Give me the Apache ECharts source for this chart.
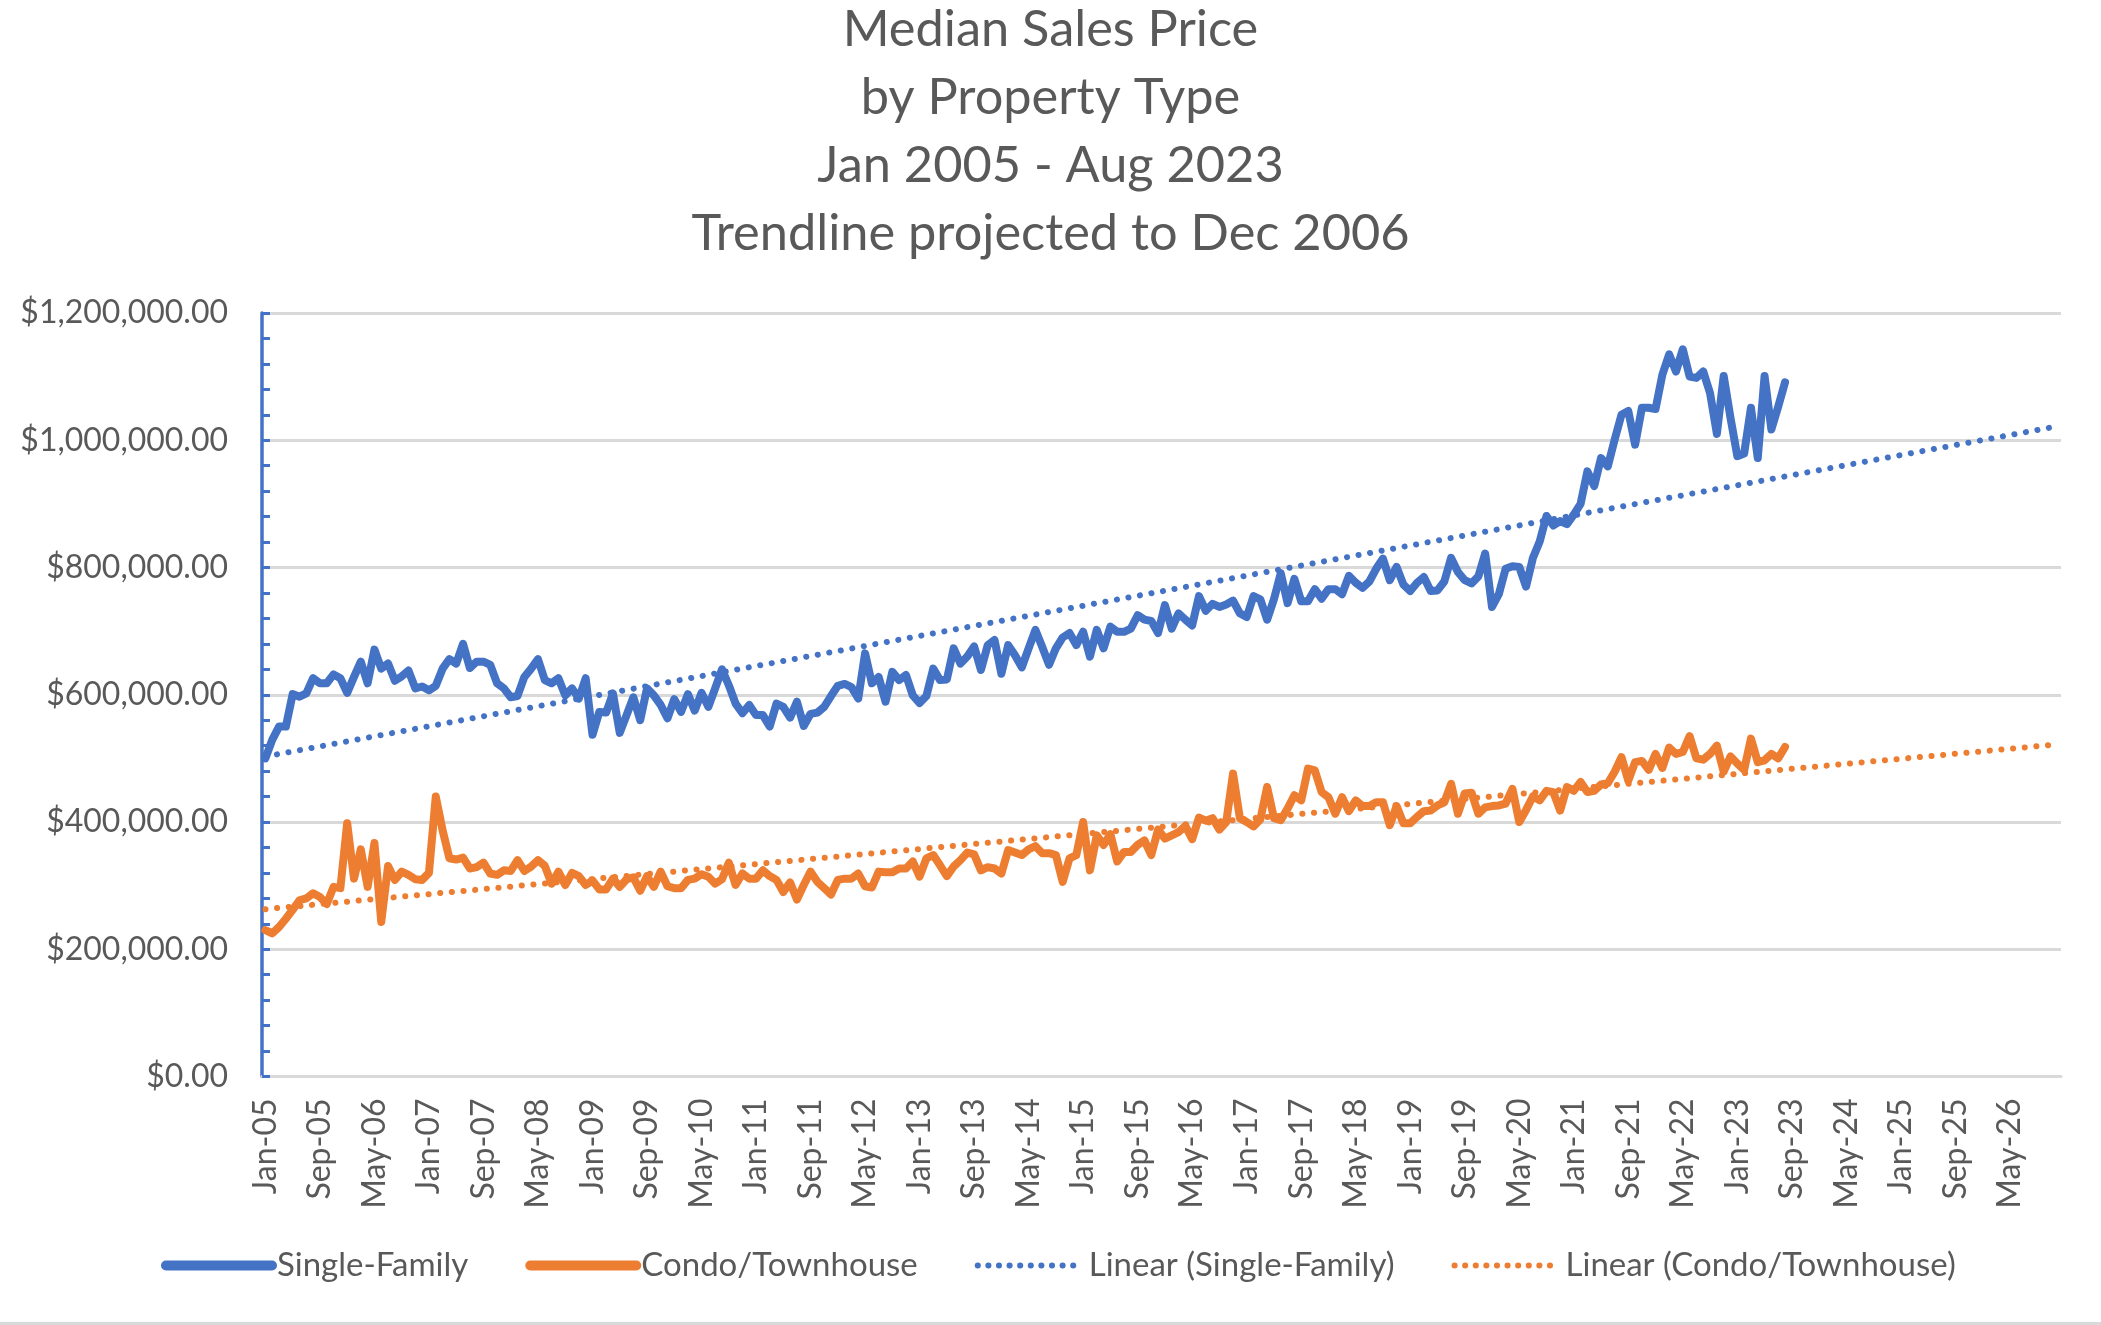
<!DOCTYPE html>
<html>
<head>
<meta charset="utf-8">
<title>Median Sales Price by Property Type</title>
<script src="https://cdn.jsdelivr.net/npm/echarts@6/dist/echarts.min.js"></script>
<style>
  html, body { margin: 0; padding: 0; background: #fff; }
  #chart { width: 2101px; height: 1322px; }
  #edge { width: 2101px; height: 3px; background: #d9d9d9; }
</style>
</head>
<body>
<div id="chart"></div>
<div id="edge"></div>
<script>
// month labels Jan-05 ... Dec-26
const monthNames = ['Jan', 'Feb', 'Mar', 'Apr', 'May', 'Jun', 'Jul', 'Aug', 'Sep', 'Oct', 'Nov', 'Dec'];
const firstYear = 2005;
const lastYear = 2026;
const months = [];
for (let y = firstYear; y <= lastYear; y++) {
  monthNames.forEach(m => months.push(m + '-' + String(y).slice(2)));
}

// median price, Jan 2005 - Aug 2023
const singleFamily = [
  500000, 529000, 550000, 550000, 601000, 597000, 602000, 626000, 618000, 618000, 632000, 626000,
  603000, 628000, 652000, 618000, 671000, 641000, 649000, 622000, 629000, 638000, 610000, 613000,
  607000, 614000, 641000, 656000, 649000, 680000, 642000, 652000, 652000, 647000, 618000, 610000,
  596000, 598000, 628000, 641000, 656000, 623000, 618000, 626000, 599000, 610000, 594000, 626000,
  537000, 573000, 572000, 602000, 540000, 568000, 596000, 560000, 610000, 599000, 584000, 563000,
  593000, 573000, 601000, 575000, 603000, 581000, 610000, 640000, 615000, 586000, 571000, 584000,
  568000, 568000, 550000, 586000, 581000, 564000, 589000, 551000, 570000, 572000, 581000, 598000,
  614000, 617000, 612000, 594000, 665000, 618000, 628000, 589000, 636000, 623000, 631000, 599000,
  587000, 598000, 641000, 623000, 624000, 673000, 649000, 660000, 676000, 639000, 678000, 686000,
  633000, 678000, 662000, 643000, 673000, 702000, 675000, 647000, 673000, 690000, 697000, 678000,
  699000, 660000, 702000, 673000, 707000, 699000, 699000, 704000, 725000, 718000, 716000, 697000,
  741000, 704000, 728000, 718000, 709000, 755000, 732000, 743000, 738000, 742000, 748000, 728000,
  722000, 755000, 750000, 718000, 750000, 791000, 744000, 782000, 747000, 747000, 766000, 751000,
  766000, 766000, 758000, 787000, 776000, 768000, 778000, 798000, 814000, 780000, 801000, 773000,
  763000, 776000, 785000, 763000, 764000, 778000, 815000, 793000, 780000, 775000, 786000, 822000,
  738000, 758000, 798000, 802000, 801000, 770000, 815000, 841000, 881000, 866000, 873000, 868000,
  883000, 900000, 951000, 928000, 972000, 959000, 1001000, 1040000, 1046000, 993000, 1051000, 1051000,
  1049000, 1103000, 1135000, 1108000, 1143000, 1100000, 1098000, 1108000, 1074000, 1010000, 1101000, 1035000,
  975000, 979000, 1051000, 972000, 1101000, 1017000, 1053000, 1091000
];
const condoTownhouse = [
  230000, 225000, 235000, 248000, 262000, 277000, 280000, 288000, 282000, 271000, 298000, 296000,
  398000, 311000, 357000, 298000, 367000, 243000, 331000, 309000, 322000, 317000, 310000, 309000,
  320000, 440000, 387000, 343000, 341000, 344000, 327000, 329000, 336000, 319000, 317000, 324000,
  323000, 340000, 323000, 330000, 340000, 331000, 303000, 322000, 301000, 320000, 315000, 301000,
  308000, 294000, 294000, 311000, 298000, 310000, 313000, 292000, 315000, 298000, 322000, 299000,
  296000, 296000, 309000, 311000, 318000, 314000, 303000, 310000, 336000, 301000, 319000, 311000,
  311000, 324000, 315000, 309000, 290000, 305000, 278000, 301000, 322000, 306000, 296000, 286000,
  309000, 311000, 311000, 319000, 299000, 297000, 322000, 321000, 321000, 327000, 327000, 338000,
  314000, 343000, 348000, 332000, 315000, 330000, 340000, 352000, 349000, 324000, 329000, 327000,
  319000, 356000, 352000, 348000, 357000, 362000, 351000, 351000, 348000, 306000, 343000, 348000,
  400000, 324000, 379000, 364000, 381000, 338000, 353000, 353000, 364000, 371000, 348000, 388000,
  374000, 379000, 384000, 394000, 373000, 407000, 402000, 406000, 388000, 400000, 476000, 406000,
  400000, 393000, 404000, 455000, 406000, 403000, 421000, 442000, 434000, 484000, 481000, 447000,
  439000, 413000, 439000, 417000, 434000, 425000, 425000, 431000, 431000, 395000, 425000, 398000,
  398000, 408000, 417000, 418000, 426000, 431000, 460000, 413000, 445000, 446000, 413000, 423000,
  425000, 426000, 429000, 452000, 400000, 419000, 440000, 434000, 449000, 447000, 418000, 455000,
  449000, 463000, 447000, 449000, 459000, 461000, 479000, 502000, 465000, 494000, 496000, 482000,
  507000, 485000, 517000, 507000, 510000, 535000, 500000, 498000, 507000, 520000, 479000, 503000,
  492000, 482000, 531000, 494000, 497000, 507000, 500000, 518000
];

// linear trendlines, read at Jan-05 and Dec-26
const trendSingleFamily = [503000, 1022000];
const trendCondo = [263000, 522000];

// y axis
const yMax = 1200000;
const yStep = 200000;

const trendData = ends => months.map((m, i) => i === 0 ? ends[0] : (i === months.length - 1 ? ends[1] : null));

const FONT = 'Lato';
const GREY = '#595959';
const BLUE = '#4472C4';
const ORANGE = '#ED7D31';
const GRID = '#d9d9d9';
const DOTS = [0.1, 11.6];

const solidKey = { lineStyle: { width: 10, cap: 'round', type: 'solid' }, itemStyle: { opacity: 0 } };
const dottedKey = { lineStyle: { width: 6, cap: 'round', type: [0.1, 10.5] }, itemStyle: { opacity: 0 } };

const chart = echarts.init(document.getElementById('chart'));
chart.setOption({
  animation: false,
  textStyle: { fontFamily: FONT },
  title: {
    text: 'Median Sales Price\nby Property Type\nJan 2005 - Aug 2023\nTrendline projected to Dec 2006',
    left: 'center',
    top: -4,
    padding: 0,
    textStyle: { fontSize: 50.5, lineHeight: 68, fontWeight: 'normal', color: GREY, fontFamily: FONT }
  },
  grid: { left: 262, right: 40, top: 313, bottom: 245.5 },
  legend: {
    top: 1249,
    left: 161,
    padding: 0,
    itemWidth: 106,
    itemHeight: 14,
    itemGap: 57,
    textStyle: { fontSize: 33, color: GREY, fontFamily: FONT },
    data: [
      Object.assign({ name: 'Single-Family' }, solidKey),
      Object.assign({ name: 'Condo/Townhouse' }, solidKey),
      Object.assign({ name: 'Linear (Single-Family)' }, dottedKey),
      Object.assign({ name: 'Linear (Condo/Townhouse)' }, dottedKey)
    ]
  },
  xAxis: {
    type: 'category',
    data: months,
    boundaryGap: true,
    axisLine: { lineStyle: { color: GRID, width: 3 } },
    axisTick: { interval: 7, length: 10, lineStyle: { color: GRID, width: 3 } },
    axisLabel: { interval: 7, rotate: 90, margin: 22, fontSize: 32, color: GREY, fontFamily: FONT },
    splitLine: { show: false }
  },
  yAxis: {
    type: 'value',
    min: 0,
    max: yMax,
    interval: yStep,
    axisLine: { show: true, lineStyle: { color: BLUE, width: 3.5 } },
    axisTick: { show: true, inside: true, length: 8, lineStyle: { color: BLUE, width: 3 } },
    minorTick: { show: true, splitNumber: 5, length: 8, lineStyle: { color: BLUE, width: 3 } },
    axisLabel: {
      margin: 34,
      fontSize: 32,
      color: GREY,
      fontFamily: FONT,
      formatter: v => '$' + v.toLocaleString('en-US', { minimumFractionDigits: 2, maximumFractionDigits: 2 })
    },
    splitLine: { lineStyle: { color: GRID, width: 3 } }
  },
  series: [
    {
      name: 'Single-Family', type: 'line', data: singleFamily, symbol: 'none', z: 3,
      itemStyle: { color: BLUE },
      lineStyle: { color: BLUE, width: 8, cap: 'round', join: 'round' }
    },
    {
      name: 'Condo/Townhouse', type: 'line', data: condoTownhouse, symbol: 'none', z: 3,
      itemStyle: { color: ORANGE },
      lineStyle: { color: ORANGE, width: 8, cap: 'round', join: 'round' }
    },
    {
      name: 'Linear (Single-Family)', type: 'line', data: trendData(trendSingleFamily), connectNulls: true,
      symbol: 'none', z: 2,
      itemStyle: { color: BLUE },
      lineStyle: { color: BLUE, width: 6, type: DOTS, cap: 'round' }
    },
    {
      name: 'Linear (Condo/Townhouse)', type: 'line', data: trendData(trendCondo), connectNulls: true,
      symbol: 'none', z: 2,
      itemStyle: { color: ORANGE },
      lineStyle: { color: ORANGE, width: 6, type: DOTS, cap: 'round' }
    }
  ]
});
</script>
</body>
</html>
